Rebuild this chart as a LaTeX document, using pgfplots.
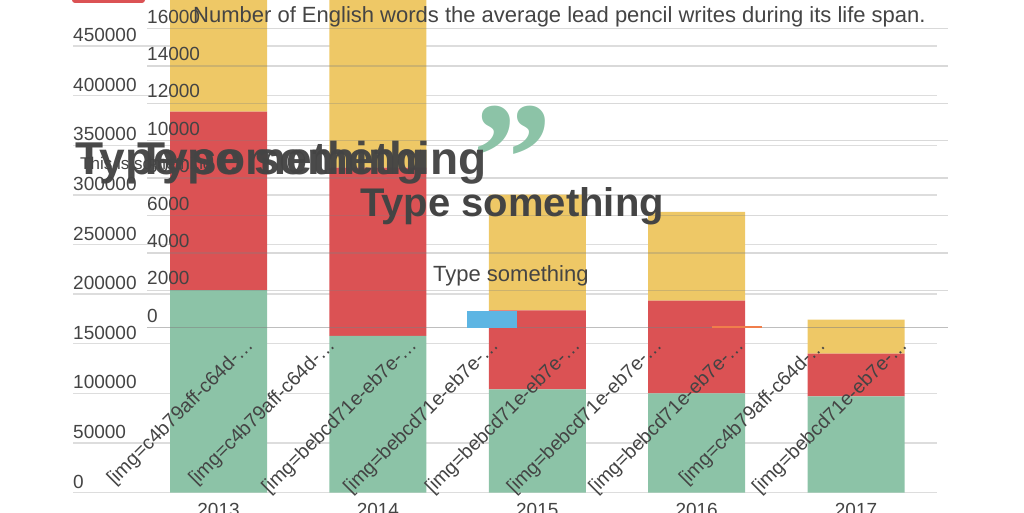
\documentclass[border=0pt]{standalone}
\usepackage{fontspec}
\setmainfont{Liberation Sans}
\newfontfamily\quotefont{Liberation Serif}
\usepackage{pgfplots}
\pgfplotsset{compat=1.18}

\definecolor{cgreen}{HTML}{8CC3A7}
\definecolor{cred}{HTML}{DB5254}
\definecolor{cyellow}{HTML}{EEC866}
\definecolor{cblue}{HTML}{5DB5E3}
\definecolor{corange}{HTML}{F07E4B}
\definecolor{ctext}{HTML}{444444}
\definecolor{cgrid}{HTML}{DDDDDD}
\newcommand\px[1]{\fontsize{#1}{#1}\selectfont}

\begin{document}
\begin{tikzpicture}
\useasboundingbox (0,0) rectangle (1024pt,512pt);
\clip (0,0) rectangle (1024pt,512pt);

% main stacked chart
\begin{axis}[
    at={(73pt,19.5pt)}, anchor=south west, scale only axis,
    width=864pt, height=492.5pt,
    xmin=-0.913, xmax=4.508, ymin=0, ymax=496500,
    ybar stacked, bar width=97pt,
    axis line style={draw=none}, tick style={draw=none},
    ytick={0,50000,...,450000}, scaled y ticks=false,
    ymajorgrids, major grid style={cgrid, line width=1.5pt},
    extra y ticks={0}, extra y tick labels={},
    extra y tick style={grid style={ctext, line width=3pt}},
    yticklabel style={anchor=south west, inner sep=0pt, yshift=4pt,
        font=\px{19}, text=ctext,
        /pgf/number format/.cd, fixed, 1000 sep={}, assume math mode=true},
    xtick={0,...,4}, xticklabels={2013,2014,2015,2016,2017},
    xticklabel style={anchor=north, inner sep=0pt, yshift=-11pt,
        font=\px{19}, text=ctext},
]
\addplot[fill=cgreen, draw=none] coordinates {(0,204000) (1,158000) (2,104000) (3,100000) (4,97000)};
\addplot[fill=cred, draw=none] coordinates {(0,180000) (1,169600) (2,79500) (3,93500) (4,43000)};
\addplot[fill=cyellow, draw=none] coordinates {(0,216000) (1,272400) (2,116900) (3,89500) (4,34400)};
\end{axis}

% overlaid second chart
\begin{axis}[
    at={(147pt,0pt)}, anchor=south west, scale only axis,
    width=801pt, height=512pt, clip=false,
    xmin=-0.22, xmax=9.58, ymin=-9856, ymax=17524,
    ybar, bar width=50pt, bar shift=0pt,
    axis line style={draw=none}, tick style={draw=none},
    ytick={0,2000,...,16000}, scaled y ticks=false,
    ymajorgrids, major grid style={gray, opacity=0.3, line width=1.5pt},
    extra y ticks={0}, extra y tick labels={},
    extra y tick style={grid style={ctext, opacity=1, line width=3pt}},
    yticklabel style={anchor=south west, inner sep=0pt, yshift=5pt,
        font=\px{19}, text=ctext,
        /pgf/number format/.cd, fixed, 1000 sep={}, assume math mode=true},
    xtick=\empty,
]
\addplot[fill=cblue, draw=none] coordinates {(4,893)};
\addplot[fill=corange, draw=none] coordinates {(7,110)};
\begin{scope}[every node/.style={rotate=45, anchor=east, inner sep=0pt, font=\px{19.5}, text=ctext}]
\node at (axis cs:1.05,-800) {[img=c4b79aff-c64d-…};
\node at (axis cs:2.05,-800) {[img=c4b79aff-c64d-…};
\node at (axis cs:3.05,-800) {[img=bebcd71e-eb7e-…};
\node at (axis cs:4.05,-800) {[img=bebcd71e-eb7e-…};
\node at (axis cs:5.05,-800) {[img=bebcd71e-eb7e-…};
\node at (axis cs:6.05,-800) {[img=bebcd71e-eb7e-…};
\node at (axis cs:7.05,-800) {[img=bebcd71e-eb7e-…};
\node at (axis cs:8.05,-800) {[img=c4b79aff-c64d-…};
\node at (axis cs:9.05,-800) {[img=bebcd71e-eb7e-…};
\end{scope}
\end{axis}

% legend marker remnant
\fill[cred, rounded corners=3pt] (72pt,509pt) rectangle (145pt,520pt);

% texts
\node[anchor=base west, inner sep=0pt, font=\px{22}, text=ctext] at (193pt,489pt)
    {Number of English words the average lead pencil writes during its life span.};
\node[anchor=base west, inner sep=0pt, font=\quotefont\bfseries\px{160}, text=cgreen] at (472pt,299pt) {”};
\node[anchor=base west, inner sep=0pt, font=\px{17}, text=ctext] at (80pt,342pt) {This is something};
\node[anchor=base west, inner sep=0pt, font=\bfseries\px{46}, text=ctext, opacity=0.97] at (75pt,337pt) {Type something};
\node[anchor=base east, inner sep=0pt, font=\bfseries\px{46}, text=ctext, opacity=0.97] at (487pt,337pt) {Type something};
\node[anchor=base west, inner sep=0pt, font=\bfseries\px{40}, text=ctext] at (360pt,295pt) {Type something};
\node[anchor=base west, inner sep=0pt, font=\px{22}, text=ctext] at (433pt,231pt) {Type something};
\end{tikzpicture}
\end{document}
